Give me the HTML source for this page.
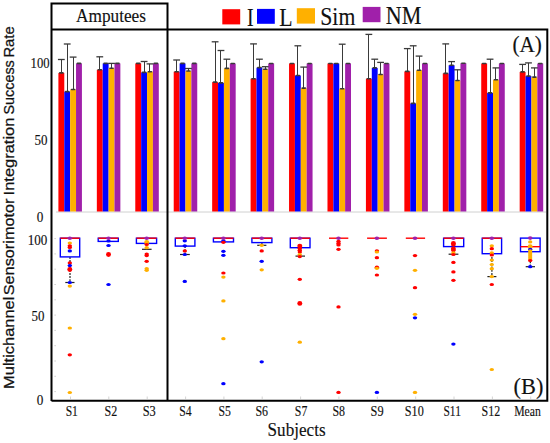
<!DOCTYPE html>
<html><head><meta charset="utf-8"><style>
html,body{margin:0;padding:0;background:#fff;width:550px;height:443px;overflow:hidden;}
svg{display:block;}
.s{font-family:"Liberation Serif",serif;fill:#111;stroke:#111;stroke-width:0.15px;}
.ss{font-family:"Liberation Sans",sans-serif;fill:#111;stroke:#111;stroke-width:0.25px;}
</style></head><body>
<svg width="550" height="443" viewBox="0 0 550 443">
<line x1="56" y1="212.0" x2="546" y2="212.0" stroke="#d0d0d0" stroke-width="1"/>
<rect x="58.40" y="72.90" width="5.88" height="138.60" fill="#ff0000"/>
<rect x="64.28" y="91.60" width="5.88" height="119.90" fill="#0000ff"/>
<rect x="70.16" y="89.50" width="5.88" height="122.00" fill="#ffb000"/>
<rect x="76.04" y="63.40" width="5.88" height="148.10" fill="#a020aa"/>
<rect x="59.00" y="72.10" width="4.68" height="1.6" rx="0.8" fill="#3a3a3a"/>
<line x1="61.50" y1="72.90" x2="61.50" y2="59.50" stroke="#3a3a3a" stroke-width="1.0"/>
<line x1="57.94" y1="59.50" x2="64.74" y2="59.50" stroke="#3a3a3a" stroke-width="1.3"/>
<rect x="64.88" y="90.80" width="4.68" height="1.6" rx="0.8" fill="#3a3a3a"/>
<line x1="67.50" y1="91.60" x2="67.50" y2="44.00" stroke="#3a3a3a" stroke-width="1.0"/>
<line x1="63.82" y1="44.00" x2="70.62" y2="44.00" stroke="#3a3a3a" stroke-width="1.3"/>
<rect x="70.76" y="88.70" width="4.68" height="1.6" rx="0.8" fill="#3a3a3a"/>
<line x1="73.50" y1="89.50" x2="73.50" y2="57.10" stroke="#3a3a3a" stroke-width="1.0"/>
<line x1="69.70" y1="57.10" x2="76.50" y2="57.10" stroke="#3a3a3a" stroke-width="1.3"/>
<rect x="76.64" y="62.60" width="4.68" height="1.6" rx="0.8" fill="#3a3a3a"/>
<rect x="96.84" y="69.80" width="5.88" height="141.70" fill="#ff0000"/>
<rect x="102.72" y="63.40" width="5.88" height="148.10" fill="#0000ff"/>
<rect x="108.60" y="68.20" width="5.88" height="143.30" fill="#ffb000"/>
<rect x="114.48" y="63.40" width="5.88" height="148.10" fill="#a020aa"/>
<rect x="97.44" y="69.00" width="4.68" height="1.6" rx="0.8" fill="#3a3a3a"/>
<line x1="99.50" y1="69.80" x2="99.50" y2="56.80" stroke="#3a3a3a" stroke-width="1.0"/>
<line x1="96.38" y1="56.80" x2="103.18" y2="56.80" stroke="#3a3a3a" stroke-width="1.3"/>
<rect x="103.32" y="62.60" width="4.68" height="1.6" rx="0.8" fill="#3a3a3a"/>
<rect x="109.20" y="67.40" width="4.68" height="1.6" rx="0.8" fill="#3a3a3a"/>
<line x1="111.50" y1="68.20" x2="111.50" y2="63.40" stroke="#3a3a3a" stroke-width="1.0"/>
<line x1="108.14" y1="63.40" x2="114.94" y2="63.40" stroke="#3a3a3a" stroke-width="1.3"/>
<rect x="115.08" y="62.60" width="4.68" height="1.6" rx="0.8" fill="#3a3a3a"/>
<rect x="135.28" y="63.40" width="5.88" height="148.10" fill="#ff0000"/>
<rect x="141.16" y="72.40" width="5.88" height="139.10" fill="#0000ff"/>
<rect x="147.04" y="71.70" width="5.88" height="139.80" fill="#ffb000"/>
<rect x="152.92" y="63.40" width="5.88" height="148.10" fill="#a020aa"/>
<rect x="135.88" y="62.60" width="4.68" height="1.6" rx="0.8" fill="#3a3a3a"/>
<rect x="141.76" y="71.60" width="4.68" height="1.6" rx="0.8" fill="#3a3a3a"/>
<line x1="144.50" y1="72.40" x2="144.50" y2="61.50" stroke="#3a3a3a" stroke-width="1.0"/>
<line x1="140.70" y1="61.50" x2="147.50" y2="61.50" stroke="#3a3a3a" stroke-width="1.3"/>
<rect x="147.64" y="70.90" width="4.68" height="1.6" rx="0.8" fill="#3a3a3a"/>
<line x1="149.50" y1="71.70" x2="149.50" y2="63.90" stroke="#3a3a3a" stroke-width="1.0"/>
<line x1="146.58" y1="63.90" x2="153.38" y2="63.90" stroke="#3a3a3a" stroke-width="1.3"/>
<rect x="153.52" y="62.60" width="4.68" height="1.6" rx="0.8" fill="#3a3a3a"/>
<rect x="173.72" y="71.70" width="5.88" height="139.80" fill="#ff0000"/>
<rect x="179.60" y="63.40" width="5.88" height="148.10" fill="#0000ff"/>
<rect x="185.48" y="71.00" width="5.88" height="140.50" fill="#ffb000"/>
<rect x="191.36" y="63.40" width="5.88" height="148.10" fill="#a020aa"/>
<rect x="174.32" y="70.90" width="4.68" height="1.6" rx="0.8" fill="#3a3a3a"/>
<line x1="176.50" y1="71.70" x2="176.50" y2="60.00" stroke="#3a3a3a" stroke-width="1.0"/>
<line x1="173.26" y1="60.00" x2="180.06" y2="60.00" stroke="#3a3a3a" stroke-width="1.3"/>
<rect x="180.20" y="62.60" width="4.68" height="1.6" rx="0.8" fill="#3a3a3a"/>
<rect x="186.08" y="70.20" width="4.68" height="1.6" rx="0.8" fill="#3a3a3a"/>
<line x1="188.50" y1="71.00" x2="188.50" y2="68.50" stroke="#3a3a3a" stroke-width="1.0"/>
<line x1="185.02" y1="68.50" x2="191.82" y2="68.50" stroke="#3a3a3a" stroke-width="1.3"/>
<rect x="191.96" y="62.60" width="4.68" height="1.6" rx="0.8" fill="#3a3a3a"/>
<rect x="212.16" y="82.10" width="5.88" height="129.40" fill="#ff0000"/>
<rect x="218.04" y="82.90" width="5.88" height="128.60" fill="#0000ff"/>
<rect x="223.92" y="68.40" width="5.88" height="143.10" fill="#ffb000"/>
<rect x="229.80" y="63.50" width="5.88" height="148.00" fill="#a020aa"/>
<rect x="212.76" y="81.30" width="4.68" height="1.6" rx="0.8" fill="#3a3a3a"/>
<line x1="215.50" y1="82.10" x2="215.50" y2="41.80" stroke="#3a3a3a" stroke-width="1.0"/>
<line x1="211.70" y1="41.80" x2="218.50" y2="41.80" stroke="#3a3a3a" stroke-width="1.3"/>
<rect x="218.64" y="82.10" width="4.68" height="1.6" rx="0.8" fill="#3a3a3a"/>
<line x1="220.50" y1="82.90" x2="220.50" y2="50.50" stroke="#3a3a3a" stroke-width="1.0"/>
<line x1="217.58" y1="50.50" x2="224.38" y2="50.50" stroke="#3a3a3a" stroke-width="1.3"/>
<rect x="224.52" y="67.60" width="4.68" height="1.6" rx="0.8" fill="#3a3a3a"/>
<line x1="226.50" y1="68.40" x2="226.50" y2="59.20" stroke="#3a3a3a" stroke-width="1.0"/>
<line x1="223.46" y1="59.20" x2="230.26" y2="59.20" stroke="#3a3a3a" stroke-width="1.3"/>
<rect x="230.40" y="62.70" width="4.68" height="1.6" rx="0.8" fill="#3a3a3a"/>
<rect x="250.60" y="78.70" width="5.88" height="132.80" fill="#ff0000"/>
<rect x="256.48" y="67.60" width="5.88" height="143.90" fill="#0000ff"/>
<rect x="262.36" y="69.20" width="5.88" height="142.30" fill="#ffb000"/>
<rect x="268.24" y="63.50" width="5.88" height="148.00" fill="#a020aa"/>
<rect x="251.20" y="77.90" width="4.68" height="1.6" rx="0.8" fill="#3a3a3a"/>
<line x1="253.50" y1="78.70" x2="253.50" y2="43.90" stroke="#3a3a3a" stroke-width="1.0"/>
<line x1="250.14" y1="43.90" x2="256.94" y2="43.90" stroke="#3a3a3a" stroke-width="1.3"/>
<rect x="257.08" y="66.80" width="4.68" height="1.6" rx="0.8" fill="#3a3a3a"/>
<line x1="259.50" y1="67.60" x2="259.50" y2="59.20" stroke="#3a3a3a" stroke-width="1.0"/>
<line x1="256.02" y1="59.20" x2="262.82" y2="59.20" stroke="#3a3a3a" stroke-width="1.3"/>
<rect x="262.96" y="68.40" width="4.68" height="1.6" rx="0.8" fill="#3a3a3a"/>
<line x1="265.50" y1="69.20" x2="265.50" y2="66.70" stroke="#3a3a3a" stroke-width="1.0"/>
<line x1="261.90" y1="66.70" x2="268.70" y2="66.70" stroke="#3a3a3a" stroke-width="1.3"/>
<rect x="268.84" y="62.70" width="4.68" height="1.6" rx="0.8" fill="#3a3a3a"/>
<rect x="289.04" y="63.50" width="5.88" height="148.00" fill="#ff0000"/>
<rect x="294.92" y="75.50" width="5.88" height="136.00" fill="#0000ff"/>
<rect x="300.80" y="88.10" width="5.88" height="123.40" fill="#ffb000"/>
<rect x="306.68" y="63.50" width="5.88" height="148.00" fill="#a020aa"/>
<rect x="289.64" y="62.70" width="4.68" height="1.6" rx="0.8" fill="#3a3a3a"/>
<rect x="295.52" y="74.70" width="4.68" height="1.6" rx="0.8" fill="#3a3a3a"/>
<line x1="297.50" y1="75.50" x2="297.50" y2="45.80" stroke="#3a3a3a" stroke-width="1.0"/>
<line x1="294.46" y1="45.80" x2="301.26" y2="45.80" stroke="#3a3a3a" stroke-width="1.3"/>
<rect x="301.40" y="87.30" width="4.68" height="1.6" rx="0.8" fill="#3a3a3a"/>
<line x1="303.50" y1="88.10" x2="303.50" y2="67.10" stroke="#3a3a3a" stroke-width="1.0"/>
<line x1="300.34" y1="67.10" x2="307.14" y2="67.10" stroke="#3a3a3a" stroke-width="1.3"/>
<rect x="307.28" y="62.70" width="4.68" height="1.6" rx="0.8" fill="#3a3a3a"/>
<rect x="327.48" y="63.50" width="5.88" height="148.00" fill="#ff0000"/>
<rect x="333.36" y="63.50" width="5.88" height="148.00" fill="#0000ff"/>
<rect x="339.24" y="88.80" width="5.88" height="122.70" fill="#ffb000"/>
<rect x="345.12" y="63.50" width="5.88" height="148.00" fill="#a020aa"/>
<rect x="328.08" y="62.70" width="4.68" height="1.6" rx="0.8" fill="#3a3a3a"/>
<rect x="333.96" y="62.70" width="4.68" height="1.6" rx="0.8" fill="#3a3a3a"/>
<rect x="339.84" y="88.00" width="4.68" height="1.6" rx="0.8" fill="#3a3a3a"/>
<line x1="342.50" y1="88.80" x2="342.50" y2="44.20" stroke="#3a3a3a" stroke-width="1.0"/>
<line x1="338.78" y1="44.20" x2="345.58" y2="44.20" stroke="#3a3a3a" stroke-width="1.3"/>
<rect x="345.72" y="62.70" width="4.68" height="1.6" rx="0.8" fill="#3a3a3a"/>
<rect x="365.92" y="78.70" width="5.88" height="132.80" fill="#ff0000"/>
<rect x="371.80" y="67.90" width="5.88" height="143.60" fill="#0000ff"/>
<rect x="377.68" y="74.50" width="5.88" height="137.00" fill="#ffb000"/>
<rect x="383.56" y="63.50" width="5.88" height="148.00" fill="#a020aa"/>
<rect x="366.52" y="77.90" width="4.68" height="1.6" rx="0.8" fill="#3a3a3a"/>
<line x1="368.50" y1="78.70" x2="368.50" y2="34.40" stroke="#3a3a3a" stroke-width="1.0"/>
<line x1="365.46" y1="34.40" x2="372.26" y2="34.40" stroke="#3a3a3a" stroke-width="1.3"/>
<rect x="372.40" y="67.10" width="4.68" height="1.6" rx="0.8" fill="#3a3a3a"/>
<line x1="374.50" y1="67.90" x2="374.50" y2="59.20" stroke="#3a3a3a" stroke-width="1.0"/>
<line x1="371.34" y1="59.20" x2="378.14" y2="59.20" stroke="#3a3a3a" stroke-width="1.3"/>
<rect x="378.28" y="73.70" width="4.68" height="1.6" rx="0.8" fill="#3a3a3a"/>
<line x1="380.50" y1="74.50" x2="380.50" y2="62.40" stroke="#3a3a3a" stroke-width="1.0"/>
<line x1="377.22" y1="62.40" x2="384.02" y2="62.40" stroke="#3a3a3a" stroke-width="1.3"/>
<rect x="384.16" y="62.70" width="4.68" height="1.6" rx="0.8" fill="#3a3a3a"/>
<rect x="404.36" y="71.40" width="5.88" height="140.10" fill="#ff0000"/>
<rect x="410.24" y="103.40" width="5.88" height="108.10" fill="#0000ff"/>
<rect x="416.12" y="70.30" width="5.88" height="141.20" fill="#ffb000"/>
<rect x="422.00" y="63.50" width="5.88" height="148.00" fill="#a020aa"/>
<rect x="404.96" y="70.60" width="4.68" height="1.6" rx="0.8" fill="#3a3a3a"/>
<line x1="407.50" y1="71.40" x2="407.50" y2="48.60" stroke="#3a3a3a" stroke-width="1.0"/>
<line x1="403.90" y1="48.60" x2="410.70" y2="48.60" stroke="#3a3a3a" stroke-width="1.3"/>
<rect x="410.84" y="102.60" width="4.68" height="1.6" rx="0.8" fill="#3a3a3a"/>
<line x1="413.50" y1="103.40" x2="413.50" y2="45.80" stroke="#3a3a3a" stroke-width="1.0"/>
<line x1="409.78" y1="45.80" x2="416.58" y2="45.80" stroke="#3a3a3a" stroke-width="1.3"/>
<rect x="416.72" y="69.50" width="4.68" height="1.6" rx="0.8" fill="#3a3a3a"/>
<line x1="419.50" y1="70.30" x2="419.50" y2="56.10" stroke="#3a3a3a" stroke-width="1.0"/>
<line x1="415.66" y1="56.10" x2="422.46" y2="56.10" stroke="#3a3a3a" stroke-width="1.3"/>
<rect x="422.60" y="62.70" width="4.68" height="1.6" rx="0.8" fill="#3a3a3a"/>
<rect x="442.80" y="73.40" width="5.88" height="138.10" fill="#ff0000"/>
<rect x="448.68" y="65.20" width="5.88" height="146.30" fill="#0000ff"/>
<rect x="454.56" y="80.50" width="5.88" height="131.00" fill="#ffb000"/>
<rect x="460.44" y="63.20" width="5.88" height="148.30" fill="#a020aa"/>
<rect x="443.40" y="72.60" width="4.68" height="1.6" rx="0.8" fill="#3a3a3a"/>
<line x1="445.50" y1="73.40" x2="445.50" y2="43.90" stroke="#3a3a3a" stroke-width="1.0"/>
<line x1="442.34" y1="43.90" x2="449.14" y2="43.90" stroke="#3a3a3a" stroke-width="1.3"/>
<rect x="449.28" y="64.40" width="4.68" height="1.6" rx="0.8" fill="#3a3a3a"/>
<line x1="451.50" y1="65.20" x2="451.50" y2="61.60" stroke="#3a3a3a" stroke-width="1.0"/>
<line x1="448.22" y1="61.60" x2="455.02" y2="61.60" stroke="#3a3a3a" stroke-width="1.3"/>
<rect x="455.16" y="79.70" width="4.68" height="1.6" rx="0.8" fill="#3a3a3a"/>
<line x1="457.50" y1="80.50" x2="457.50" y2="69.80" stroke="#3a3a3a" stroke-width="1.0"/>
<line x1="454.10" y1="69.80" x2="460.90" y2="69.80" stroke="#3a3a3a" stroke-width="1.3"/>
<rect x="461.04" y="62.40" width="4.68" height="1.6" rx="0.8" fill="#3a3a3a"/>
<rect x="481.24" y="63.50" width="5.88" height="148.00" fill="#ff0000"/>
<rect x="487.12" y="92.90" width="5.88" height="118.60" fill="#0000ff"/>
<rect x="493.00" y="79.80" width="5.88" height="131.70" fill="#ffb000"/>
<rect x="498.88" y="63.50" width="5.88" height="148.00" fill="#a020aa"/>
<rect x="481.84" y="62.70" width="4.68" height="1.6" rx="0.8" fill="#3a3a3a"/>
<rect x="487.72" y="92.10" width="4.68" height="1.6" rx="0.8" fill="#3a3a3a"/>
<line x1="490.50" y1="92.90" x2="490.50" y2="59.20" stroke="#3a3a3a" stroke-width="1.0"/>
<line x1="486.66" y1="59.20" x2="493.46" y2="59.20" stroke="#3a3a3a" stroke-width="1.3"/>
<rect x="493.60" y="79.00" width="4.68" height="1.6" rx="0.8" fill="#3a3a3a"/>
<line x1="495.50" y1="79.80" x2="495.50" y2="67.90" stroke="#3a3a3a" stroke-width="1.0"/>
<line x1="492.54" y1="67.90" x2="499.34" y2="67.90" stroke="#3a3a3a" stroke-width="1.3"/>
<rect x="499.48" y="62.70" width="4.68" height="1.6" rx="0.8" fill="#3a3a3a"/>
<rect x="519.68" y="71.90" width="5.88" height="139.60" fill="#ff0000"/>
<rect x="525.56" y="76.10" width="5.88" height="135.40" fill="#0000ff"/>
<rect x="531.44" y="77.10" width="5.88" height="134.40" fill="#ffb000"/>
<rect x="537.32" y="63.50" width="5.88" height="148.00" fill="#a020aa"/>
<rect x="520.28" y="71.10" width="4.68" height="1.6" rx="0.8" fill="#3a3a3a"/>
<line x1="522.50" y1="71.90" x2="522.50" y2="64.40" stroke="#3a3a3a" stroke-width="1.0"/>
<line x1="519.22" y1="64.40" x2="526.02" y2="64.40" stroke="#3a3a3a" stroke-width="1.3"/>
<rect x="526.16" y="75.30" width="4.68" height="1.6" rx="0.8" fill="#3a3a3a"/>
<line x1="528.50" y1="76.10" x2="528.50" y2="62.90" stroke="#3a3a3a" stroke-width="1.0"/>
<line x1="525.10" y1="62.90" x2="531.90" y2="62.90" stroke="#3a3a3a" stroke-width="1.3"/>
<rect x="532.04" y="76.30" width="4.68" height="1.6" rx="0.8" fill="#3a3a3a"/>
<line x1="534.50" y1="77.10" x2="534.50" y2="67.90" stroke="#3a3a3a" stroke-width="1.0"/>
<line x1="530.98" y1="67.90" x2="537.78" y2="67.90" stroke="#3a3a3a" stroke-width="1.3"/>
<rect x="537.92" y="62.70" width="4.68" height="1.6" rx="0.8" fill="#3a3a3a"/>
<line x1="54.3" y1="238.6" x2="56" y2="238.6" stroke="#c8c8c8" stroke-width="0.8"/>
<line x1="54.3" y1="253.9" x2="56" y2="253.9" stroke="#c8c8c8" stroke-width="0.8"/>
<line x1="54.3" y1="269.2" x2="56" y2="269.2" stroke="#c8c8c8" stroke-width="0.8"/>
<line x1="54.3" y1="284.5" x2="56" y2="284.5" stroke="#c8c8c8" stroke-width="0.8"/>
<line x1="54.3" y1="299.8" x2="56" y2="299.8" stroke="#c8c8c8" stroke-width="0.8"/>
<line x1="54.3" y1="315.1" x2="56" y2="315.1" stroke="#c8c8c8" stroke-width="0.8"/>
<line x1="54.3" y1="330.4" x2="56" y2="330.4" stroke="#c8c8c8" stroke-width="0.8"/>
<line x1="54.3" y1="345.7" x2="56" y2="345.7" stroke="#c8c8c8" stroke-width="0.8"/>
<line x1="54.3" y1="361.0" x2="56" y2="361.0" stroke="#c8c8c8" stroke-width="0.8"/>
<line x1="54.3" y1="376.3" x2="56" y2="376.3" stroke="#c8c8c8" stroke-width="0.8"/>
<line x1="54.3" y1="391.6" x2="56" y2="391.6" stroke="#c8c8c8" stroke-width="0.8"/>
<line x1="70.5" y1="396.5" x2="70.5" y2="399" stroke="#c8c8c8" stroke-width="0.8"/>
<line x1="108.8" y1="396.5" x2="108.8" y2="399" stroke="#c8c8c8" stroke-width="0.8"/>
<line x1="147.2" y1="396.5" x2="147.2" y2="399" stroke="#c8c8c8" stroke-width="0.8"/>
<line x1="185.6" y1="396.5" x2="185.6" y2="399" stroke="#c8c8c8" stroke-width="0.8"/>
<line x1="223.9" y1="396.5" x2="223.9" y2="399" stroke="#c8c8c8" stroke-width="0.8"/>
<line x1="262.2" y1="396.5" x2="262.2" y2="399" stroke="#c8c8c8" stroke-width="0.8"/>
<line x1="300.6" y1="396.5" x2="300.6" y2="399" stroke="#c8c8c8" stroke-width="0.8"/>
<line x1="338.9" y1="396.5" x2="338.9" y2="399" stroke="#c8c8c8" stroke-width="0.8"/>
<line x1="377.3" y1="396.5" x2="377.3" y2="399" stroke="#c8c8c8" stroke-width="0.8"/>
<line x1="415.7" y1="396.5" x2="415.7" y2="399" stroke="#c8c8c8" stroke-width="0.8"/>
<line x1="454.0" y1="396.5" x2="454.0" y2="399" stroke="#c8c8c8" stroke-width="0.8"/>
<line x1="492.4" y1="396.5" x2="492.4" y2="399" stroke="#c8c8c8" stroke-width="0.8"/>
<line x1="530.7" y1="396.5" x2="530.7" y2="399" stroke="#c8c8c8" stroke-width="0.8"/>
<line x1="70.00" y1="256.90" x2="70.00" y2="282.50" stroke="#222" stroke-width="1.2" stroke-dasharray="2 1.2"/>
<line x1="65.30" y1="282.50" x2="74.50" y2="282.50" stroke="#222" stroke-width="1.2"/>
<rect x="60.30" y="238.20" width="19.40" height="18.70" fill="none" stroke="#0000ff" stroke-width="1.4"/>
<line x1="60.30" y1="238.20" x2="79.70" y2="238.20" stroke="#ff0000" stroke-width="1.4"/>
<rect x="98.20" y="238.20" width="20.10" height="3.20" fill="none" stroke="#0000ff" stroke-width="1.4"/>
<line x1="98.20" y1="238.20" x2="118.30" y2="238.20" stroke="#ff0000" stroke-width="1.4"/>
<line x1="146.50" y1="243.40" x2="146.50" y2="249.30" stroke="#222" stroke-width="1.2" stroke-dasharray="2 1.2"/>
<line x1="142.00" y1="249.30" x2="151.60" y2="249.30" stroke="#222" stroke-width="1.2"/>
<rect x="136.40" y="238.20" width="20.20" height="5.20" fill="none" stroke="#0000ff" stroke-width="1.4"/>
<line x1="136.40" y1="238.20" x2="156.60" y2="238.20" stroke="#ff0000" stroke-width="1.4"/>
<line x1="185.10" y1="246.10" x2="185.10" y2="254.50" stroke="#222" stroke-width="1.2" stroke-dasharray="2 1.2"/>
<line x1="180.00" y1="254.50" x2="189.80" y2="254.50" stroke="#222" stroke-width="1.2"/>
<rect x="175.30" y="238.20" width="19.60" height="7.90" fill="none" stroke="#0000ff" stroke-width="1.4"/>
<line x1="175.30" y1="238.20" x2="194.90" y2="238.20" stroke="#ff0000" stroke-width="1.4"/>
<rect x="213.40" y="238.20" width="20.10" height="3.70" fill="none" stroke="#0000ff" stroke-width="1.4"/>
<line x1="213.40" y1="238.20" x2="233.50" y2="238.20" stroke="#ff0000" stroke-width="1.4"/>
<line x1="261.90" y1="242.60" x2="261.90" y2="245.30" stroke="#222" stroke-width="1.2" stroke-dasharray="2 1.2"/>
<line x1="257.20" y1="245.30" x2="266.40" y2="245.30" stroke="#222" stroke-width="1.2"/>
<rect x="251.90" y="238.20" width="20.00" height="4.40" fill="none" stroke="#0000ff" stroke-width="1.4"/>
<line x1="251.90" y1="238.20" x2="271.90" y2="238.20" stroke="#ff0000" stroke-width="1.4"/>
<line x1="300.15" y1="247.70" x2="300.15" y2="256.10" stroke="#222" stroke-width="1.2" stroke-dasharray="2 1.2"/>
<line x1="295.50" y1="256.10" x2="305.00" y2="256.10" stroke="#222" stroke-width="1.2"/>
<rect x="290.30" y="238.20" width="19.70" height="9.50" fill="none" stroke="#0000ff" stroke-width="1.4"/>
<line x1="290.30" y1="238.20" x2="310.00" y2="238.20" stroke="#ff0000" stroke-width="1.4"/>
<line x1="329.00" y1="238.20" x2="348.30" y2="238.20" stroke="#ff0000" stroke-width="1.4"/>
<line x1="367.10" y1="238.20" x2="386.90" y2="238.20" stroke="#ff0000" stroke-width="1.4"/>
<line x1="405.80" y1="238.20" x2="425.10" y2="238.20" stroke="#ff0000" stroke-width="1.4"/>
<line x1="453.65" y1="246.60" x2="453.65" y2="254.20" stroke="#222" stroke-width="1.2" stroke-dasharray="2 1.2"/>
<line x1="448.60" y1="254.20" x2="458.40" y2="254.20" stroke="#222" stroke-width="1.2"/>
<rect x="443.60" y="238.20" width="20.10" height="8.40" fill="none" stroke="#0000ff" stroke-width="1.4"/>
<line x1="443.60" y1="238.20" x2="463.70" y2="238.20" stroke="#ff0000" stroke-width="1.4"/>
<line x1="491.90" y1="253.70" x2="491.90" y2="276.60" stroke="#222" stroke-width="1.2" stroke-dasharray="2 1.2"/>
<line x1="487.40" y1="276.60" x2="496.40" y2="276.60" stroke="#222" stroke-width="1.2"/>
<rect x="482.20" y="238.20" width="19.40" height="15.50" fill="none" stroke="#0000ff" stroke-width="1.4"/>
<line x1="482.20" y1="238.20" x2="501.60" y2="238.20" stroke="#ff0000" stroke-width="1.4"/>
<line x1="530.30" y1="251.70" x2="530.30" y2="266.70" stroke="#222" stroke-width="1.2" stroke-dasharray="2 1.2"/>
<line x1="525.70" y1="266.70" x2="535.00" y2="266.70" stroke="#222" stroke-width="1.2"/>
<rect x="520.50" y="238.10" width="19.60" height="13.60" fill="none" stroke="#0000ff" stroke-width="1.4"/>
<line x1="520.50" y1="246.70" x2="540.10" y2="246.70" stroke="#ff0000" stroke-width="1.4"/>
<ellipse cx="69.80" cy="243.00" rx="2.2" ry="1.6" fill="#ffb000"/>
<ellipse cx="69.80" cy="245.80" rx="2.2" ry="1.6" fill="#ff0000"/>
<ellipse cx="69.80" cy="247.40" rx="2.2" ry="1.6" fill="#ff0000"/>
<ellipse cx="69.80" cy="250.90" rx="2.2" ry="1.6" fill="#0000ff"/>
<ellipse cx="69.80" cy="262.90" rx="2.2" ry="1.6" fill="#ff0000"/>
<ellipse cx="69.80" cy="265.60" rx="2.2" ry="1.6" fill="#0000ff"/>
<ellipse cx="69.80" cy="269.50" rx="2.5" ry="2.4" fill="#ff0000"/>
<ellipse cx="69.80" cy="282.50" rx="2.2" ry="1.6" fill="#0000ff"/>
<ellipse cx="69.80" cy="286.10" rx="2.2" ry="1.6" fill="#ffb000"/>
<ellipse cx="69.80" cy="328.00" rx="2.2" ry="1.6" fill="#ffb000"/>
<ellipse cx="69.80" cy="354.80" rx="2.2" ry="1.6" fill="#ff0000"/>
<ellipse cx="69.80" cy="392.50" rx="2.2" ry="1.6" fill="#ffb000"/>
<ellipse cx="69.80" cy="238.20" rx="2.3" ry="1.8" fill="#a020aa"/>
<ellipse cx="108.50" cy="241.00" rx="2.2" ry="1.6" fill="#0000ff"/>
<ellipse cx="108.50" cy="245.50" rx="2.2" ry="1.6" fill="#0000ff"/>
<ellipse cx="108.50" cy="254.50" rx="2.5" ry="2.4" fill="#ff0000"/>
<ellipse cx="108.50" cy="284.50" rx="2.2" ry="1.6" fill="#0000ff"/>
<ellipse cx="108.50" cy="238.20" rx="2.3" ry="1.8" fill="#a020aa"/>
<ellipse cx="146.70" cy="242.30" rx="2.5" ry="2.4" fill="#ffb000"/>
<ellipse cx="146.70" cy="244.50" rx="2.2" ry="1.6" fill="#ff0000"/>
<ellipse cx="146.70" cy="247.70" rx="2.2" ry="1.6" fill="#ffb000"/>
<ellipse cx="146.70" cy="254.00" rx="2.2" ry="1.6" fill="#ff0000"/>
<ellipse cx="146.70" cy="255.60" rx="2.2" ry="1.6" fill="#ff0000"/>
<ellipse cx="146.70" cy="261.30" rx="2.2" ry="1.6" fill="#ff0000"/>
<ellipse cx="146.70" cy="268.70" rx="2.2" ry="1.6" fill="#ffb000"/>
<ellipse cx="146.70" cy="270.30" rx="2.2" ry="1.6" fill="#ffb000"/>
<ellipse cx="146.70" cy="238.20" rx="2.3" ry="1.8" fill="#a020aa"/>
<ellipse cx="184.80" cy="240.80" rx="2.2" ry="1.6" fill="#0000ff"/>
<ellipse cx="184.80" cy="245.80" rx="2.2" ry="1.6" fill="#0000ff"/>
<ellipse cx="184.80" cy="250.90" rx="2.2" ry="1.6" fill="#ff0000"/>
<ellipse cx="184.80" cy="254.50" rx="2.2" ry="1.6" fill="#0000ff"/>
<ellipse cx="184.80" cy="281.40" rx="2.2" ry="1.6" fill="#0000ff"/>
<ellipse cx="184.80" cy="238.20" rx="2.3" ry="1.8" fill="#a020aa"/>
<ellipse cx="223.40" cy="240.80" rx="2.2" ry="1.6" fill="#0000ff"/>
<ellipse cx="223.40" cy="242.30" rx="2.2" ry="1.6" fill="#ff0000"/>
<ellipse cx="223.40" cy="251.30" rx="2.2" ry="1.6" fill="#0000ff"/>
<ellipse cx="223.40" cy="255.30" rx="2.2" ry="1.6" fill="#0000ff"/>
<ellipse cx="223.40" cy="273.00" rx="2.2" ry="1.6" fill="#ff0000"/>
<ellipse cx="223.40" cy="277.10" rx="2.2" ry="1.6" fill="#ffb000"/>
<ellipse cx="223.40" cy="300.90" rx="2.2" ry="1.6" fill="#ffb000"/>
<ellipse cx="223.40" cy="338.70" rx="2.2" ry="1.6" fill="#ffb000"/>
<ellipse cx="223.40" cy="383.70" rx="2.2" ry="1.6" fill="#0000ff"/>
<ellipse cx="223.40" cy="238.20" rx="2.3" ry="1.8" fill="#a020aa"/>
<ellipse cx="261.70" cy="245.30" rx="2.2" ry="1.6" fill="#ffb000"/>
<ellipse cx="261.70" cy="250.90" rx="2.2" ry="1.6" fill="#ff0000"/>
<ellipse cx="261.70" cy="261.30" rx="2.2" ry="1.6" fill="#0000ff"/>
<ellipse cx="261.70" cy="269.80" rx="2.2" ry="1.6" fill="#ffb000"/>
<ellipse cx="261.70" cy="361.80" rx="2.2" ry="1.6" fill="#0000ff"/>
<ellipse cx="261.70" cy="238.20" rx="2.3" ry="1.8" fill="#a020aa"/>
<ellipse cx="299.80" cy="246.10" rx="2.5" ry="2.4" fill="#ff0000"/>
<ellipse cx="299.80" cy="248.20" rx="2.2" ry="1.6" fill="#ff0000"/>
<ellipse cx="299.80" cy="250.20" rx="2.2" ry="1.6" fill="#ff0000"/>
<ellipse cx="299.80" cy="252.10" rx="2.2" ry="1.6" fill="#ff0000"/>
<ellipse cx="299.80" cy="254.50" rx="2.2" ry="1.6" fill="#ffb000"/>
<ellipse cx="299.80" cy="256.60" rx="2.2" ry="1.6" fill="#ff0000"/>
<ellipse cx="299.80" cy="279.30" rx="2.2" ry="1.6" fill="#ff0000"/>
<ellipse cx="299.80" cy="303.40" rx="2.5" ry="2.4" fill="#ff0000"/>
<ellipse cx="299.80" cy="342.20" rx="2.2" ry="1.6" fill="#ffb000"/>
<ellipse cx="299.80" cy="238.20" rx="2.3" ry="1.8" fill="#a020aa"/>
<ellipse cx="338.50" cy="241.40" rx="2.2" ry="1.6" fill="#ff0000"/>
<ellipse cx="338.50" cy="243.40" rx="2.2" ry="1.6" fill="#ff0000"/>
<ellipse cx="338.50" cy="245.00" rx="2.2" ry="1.6" fill="#ff0000"/>
<ellipse cx="338.50" cy="249.30" rx="2.2" ry="1.6" fill="#ff0000"/>
<ellipse cx="338.50" cy="306.90" rx="2.2" ry="1.6" fill="#ff0000"/>
<ellipse cx="338.50" cy="392.40" rx="2.2" ry="1.6" fill="#ff0000"/>
<ellipse cx="338.50" cy="238.20" rx="2.3" ry="1.8" fill="#a020aa"/>
<ellipse cx="376.90" cy="250.90" rx="2.2" ry="1.6" fill="#ff0000"/>
<ellipse cx="376.90" cy="252.00" rx="2.2" ry="1.6" fill="#ffb000"/>
<ellipse cx="376.90" cy="257.70" rx="2.2" ry="1.6" fill="#ff0000"/>
<ellipse cx="376.90" cy="267.20" rx="2.2" ry="1.6" fill="#ff0000"/>
<ellipse cx="376.90" cy="268.30" rx="2.2" ry="1.6" fill="#ffb000"/>
<ellipse cx="376.90" cy="275.00" rx="2.2" ry="1.6" fill="#ff0000"/>
<ellipse cx="376.90" cy="392.40" rx="2.2" ry="1.6" fill="#0000ff"/>
<ellipse cx="376.90" cy="238.20" rx="2.3" ry="1.8" fill="#a020aa"/>
<ellipse cx="415.00" cy="255.60" rx="2.2" ry="1.6" fill="#ff0000"/>
<ellipse cx="415.00" cy="270.30" rx="2.2" ry="1.6" fill="#ffb000"/>
<ellipse cx="415.00" cy="287.70" rx="2.2" ry="1.6" fill="#ff0000"/>
<ellipse cx="415.00" cy="314.30" rx="2.2" ry="1.6" fill="#ffb000"/>
<ellipse cx="415.00" cy="317.80" rx="2.2" ry="1.6" fill="#0000ff"/>
<ellipse cx="415.00" cy="392.40" rx="2.2" ry="1.6" fill="#ffb000"/>
<ellipse cx="415.00" cy="238.20" rx="2.3" ry="1.8" fill="#a020aa"/>
<ellipse cx="453.40" cy="243.40" rx="2.5" ry="2.4" fill="#ff0000"/>
<ellipse cx="453.40" cy="245.00" rx="2.2" ry="1.6" fill="#ff0000"/>
<ellipse cx="453.40" cy="249.00" rx="2.5" ry="2.4" fill="#ff0000"/>
<ellipse cx="453.40" cy="250.60" rx="2.2" ry="1.6" fill="#ff0000"/>
<ellipse cx="453.40" cy="252.90" rx="2.2" ry="1.6" fill="#ffb000"/>
<ellipse cx="453.40" cy="254.50" rx="2.2" ry="1.6" fill="#ff0000"/>
<ellipse cx="453.40" cy="262.40" rx="2.2" ry="1.6" fill="#ff0000"/>
<ellipse cx="453.40" cy="271.90" rx="2.2" ry="1.6" fill="#ff0000"/>
<ellipse cx="453.40" cy="280.30" rx="2.2" ry="1.6" fill="#ff0000"/>
<ellipse cx="453.40" cy="344.10" rx="2.2" ry="1.6" fill="#0000ff"/>
<ellipse cx="453.40" cy="238.20" rx="2.3" ry="1.8" fill="#a020aa"/>
<ellipse cx="491.80" cy="245.80" rx="2.2" ry="1.6" fill="#ffb000"/>
<ellipse cx="491.80" cy="248.70" rx="2.2" ry="1.6" fill="#ff0000"/>
<ellipse cx="491.80" cy="252.90" rx="2.2" ry="1.6" fill="#ffb000"/>
<ellipse cx="491.80" cy="255.00" rx="2.2" ry="1.6" fill="#ff0000"/>
<ellipse cx="491.80" cy="260.00" rx="2.2" ry="1.6" fill="#ffb000"/>
<ellipse cx="491.80" cy="264.50" rx="2.2" ry="1.6" fill="#ffb000"/>
<ellipse cx="491.80" cy="268.70" rx="2.2" ry="1.6" fill="#ffb000"/>
<ellipse cx="491.80" cy="276.60" rx="2.2" ry="1.6" fill="#ffb000"/>
<ellipse cx="491.80" cy="284.50" rx="2.2" ry="1.6" fill="#ff0000"/>
<ellipse cx="491.80" cy="369.50" rx="2.2" ry="1.6" fill="#ffb000"/>
<ellipse cx="491.80" cy="238.20" rx="2.3" ry="1.8" fill="#a020aa"/>
<ellipse cx="530.20" cy="241.90" rx="2.2" ry="1.6" fill="#ffb000"/>
<ellipse cx="530.20" cy="246.70" rx="2.5" ry="2.4" fill="#ffb000"/>
<ellipse cx="530.20" cy="249.40" rx="2.2" ry="1.6" fill="#0000ff"/>
<ellipse cx="530.20" cy="250.90" rx="2.2" ry="1.6" fill="#ffb000"/>
<ellipse cx="530.20" cy="253.00" rx="2.2" ry="1.6" fill="#ffb000"/>
<ellipse cx="530.20" cy="255.00" rx="2.2" ry="1.6" fill="#ffb000"/>
<ellipse cx="530.20" cy="257.00" rx="2.2" ry="1.6" fill="#ffb000"/>
<ellipse cx="530.20" cy="259.00" rx="2.2" ry="1.6" fill="#ffb000"/>
<ellipse cx="530.20" cy="260.50" rx="2.2" ry="1.6" fill="#ff0000"/>
<ellipse cx="530.20" cy="266.70" rx="2.2" ry="1.6" fill="#0000ff"/>
<ellipse cx="530.20" cy="238.10" rx="2.3" ry="1.8" fill="#a020aa"/>
<path d="M51.5 401 V3.6 H167.5 V401" fill="none" stroke="#000" stroke-width="2"/>
<path d="M51.5 29.5 H547.3 V400.7 H51.5" fill="none" stroke="#000" stroke-width="2"/>
<rect x="222.3" y="9.2" width="17.9" height="15.2" fill="#ff0000"/>
<rect x="257" y="8.9" width="17.8" height="14.9" fill="#0000ff"/>
<rect x="296.8" y="8.2" width="18.2" height="15.4" fill="#ffb000"/>
<rect x="362.7" y="6.9" width="17.8" height="15.3" fill="#a020aa"/>
<text class="s" x="246.9" y="25.5" font-size="25.5" textLength="6.6" lengthAdjust="spacingAndGlyphs">I</text>
<text class="s" x="279.3" y="25.5" font-size="25.5" textLength="13.3" lengthAdjust="spacingAndGlyphs">L</text>
<text class="s" x="320.3" y="25.1" font-size="25.5" textLength="35.0" lengthAdjust="spacingAndGlyphs">Sim</text>
<text class="s" x="385.8" y="23.9" font-size="25.5" textLength="35.6" lengthAdjust="spacingAndGlyphs">NM</text>
<text class="s" x="76" y="21.6" font-size="19" textLength="70" lengthAdjust="spacingAndGlyphs">Amputees</text>
<text class="s" x="512.4" y="52" font-size="22.4" textLength="29.4" lengthAdjust="spacingAndGlyphs">(A)</text>
<text class="s" x="513.6" y="393.8" font-size="22.4" textLength="29.8" lengthAdjust="spacingAndGlyphs">(B)</text>
<text class="s" x="30.6" y="67.6" font-size="14.2" textLength="19.0" lengthAdjust="spacingAndGlyphs">100</text>
<text class="s" x="34.6" y="144.6" font-size="14.2" textLength="13.0" lengthAdjust="spacingAndGlyphs">50</text>
<text class="s" x="36.7" y="221.6" font-size="14.2" textLength="6.6" lengthAdjust="spacingAndGlyphs">0</text>
<text class="s" x="27.7" y="244.6" font-size="14.2" textLength="19.6" lengthAdjust="spacingAndGlyphs">100</text>
<text class="s" x="31.6" y="320.5" font-size="14.2" textLength="12.9" lengthAdjust="spacingAndGlyphs">50</text>
<text class="s" x="36.7" y="405.3" font-size="14.2" textLength="6.6" lengthAdjust="spacingAndGlyphs">0</text>
<text class="s" x="65.7" y="415.6" font-size="14.4" textLength="12.2" lengthAdjust="spacingAndGlyphs">S1</text>
<text class="s" x="104.5" y="415.6" font-size="14.4" textLength="12.7" lengthAdjust="spacingAndGlyphs">S2</text>
<text class="s" x="142.7" y="415.6" font-size="14.4" textLength="13.1" lengthAdjust="spacingAndGlyphs">S3</text>
<text class="s" x="179.2" y="415.6" font-size="14.4" textLength="12.4" lengthAdjust="spacingAndGlyphs">S4</text>
<text class="s" x="218.5" y="415.6" font-size="14.4" textLength="12.4" lengthAdjust="spacingAndGlyphs">S5</text>
<text class="s" x="255.4" y="415.6" font-size="14.4" textLength="12.6" lengthAdjust="spacingAndGlyphs">S6</text>
<text class="s" x="294.8" y="415.6" font-size="14.4" textLength="12.5" lengthAdjust="spacingAndGlyphs">S7</text>
<text class="s" x="332.4" y="415.6" font-size="14.4" textLength="12.6" lengthAdjust="spacingAndGlyphs">S8</text>
<text class="s" x="370.6" y="415.6" font-size="14.4" textLength="13.0" lengthAdjust="spacingAndGlyphs">S9</text>
<text class="s" x="404.8" y="415.6" font-size="14.4" textLength="19.0" lengthAdjust="spacingAndGlyphs">S10</text>
<text class="s" x="443.5" y="415.6" font-size="14.4" textLength="17.4" lengthAdjust="spacingAndGlyphs">S11</text>
<text class="s" x="481.6" y="415.6" font-size="14.4" textLength="18.6" lengthAdjust="spacingAndGlyphs">S12</text>
<text class="s" x="514.2" y="415.6" font-size="14.4" textLength="26.7" lengthAdjust="spacingAndGlyphs">Mean</text>
<text class="s" x="267.6" y="435.5" font-size="19" textLength="58" lengthAdjust="spacingAndGlyphs">Subjects</text>
<text class="ss" transform="translate(14.45,388.90) rotate(-90)" x="0" y="0" font-size="15.1" textLength="92.30" lengthAdjust="spacingAndGlyphs">Multichannel</text>
<text class="ss" transform="translate(14.45,295.30) rotate(-90)" x="0" y="0" font-size="15.1" textLength="96.80" lengthAdjust="spacingAndGlyphs">Sensorimotor</text>
<text class="ss" transform="translate(14.45,195.40) rotate(-90)" x="0" y="0" font-size="15.1" textLength="77.80" lengthAdjust="spacingAndGlyphs">Integration</text>
<text class="ss" transform="translate(14.45,114.50) rotate(-90)" x="0" y="0" font-size="15.1" textLength="54.30" lengthAdjust="spacingAndGlyphs">Success</text>
<text class="ss" transform="translate(14.45,57.60) rotate(-90)" x="0" y="0" font-size="15.1" textLength="31.30" lengthAdjust="spacingAndGlyphs">Rate</text>
</svg>
</body></html>
